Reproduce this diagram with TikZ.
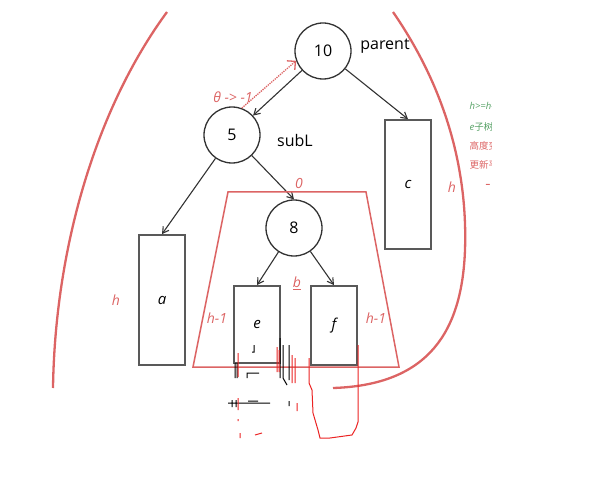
\documentclass[tikz,border=0pt]{standalone}
\usepackage{fontspec}
\setmainfont{Open Sans}
\newfontfamily\cjk{Noto Sans CJK SC}
\usetikzlibrary{arrows.meta,positioning}
\definecolor{penred}{RGB}{220,100,100}
\definecolor{inkred}{RGB}{235,35,35}
\definecolor{pengreen}{RGB}{85,160,100}

\begin{document}
\begin{tikzpicture}[
        x=1pt,
        y=-1pt,
        font=\fontsize{16}{19}\selectfont,
        knot/.style={circle, draw=black!80, line width=1.3pt, minimum size=56pt, inner sep=0pt},
        subtree/.style={rectangle, draw=black!65, line width=1.8pt, minimum width=46pt, font=\fontsize{15}{18}\selectfont\itshape},
        link/.style={-{Straight Barb[length=6pt,width=7pt]}, black!80, line width=1.1pt},
        hint/.style={penred, font=\fontsize{14}{16}\selectfont\itshape},
        note/.style={anchor=west, font=\fontsize{9.5}{11}\selectfont},
        pen/.style={penred, line width=2.3pt},
        scribble/.style={line width=1pt}
    ]
        \useasboundingbox (0,0) rectangle (602,489);

        % tree
        \node[knot] (n10) at (323,51) {10};
        \node (lparent) at (385,46) {parent};
        \node[knot] (n5) at (232,135) {5};
        \node (lsubl) at (295,141) {subL};
        \node[knot] (n8) at (294,228) {8};
        \node[subtree, minimum height=129pt] (tc) at (408,184.5) {c};
        \node[subtree, minimum height=130pt] (ta) at (162,300) {a};
        \node[subtree, minimum height=77pt] (te) at (257,324.5) {e};
        \node[subtree, minimum height=79pt] (tf) at (334,325.5) {f};

        \draw[link] (n10) -- (n5);
        \draw[link] (n10) -- (tc.north);
        \draw[link] (n5) -- (ta.north);
        \draw[link] (n5) -- (n8.north);
        \draw[link] (n8) -- (te.north);
        \draw[link] (n8) -- (tf.north);
        \draw[penred, densely dotted, line width=1.3pt, -{Straight Barb[length=6pt]}] (n5.70) -- (n10.200);

        % subtree b
        \draw[penred, line width=1.5pt] (228,192) -- (366,192) -- (399,367) -- (193,367) -- cycle;

        \node[hint] (lzero) at (299,183) {0};
        \node[hint] (lrot) at (233,97) {θ -> -1};
        \node[hint] (lb) at (297,283) {\underline{b}};
        \node[hint] (lhe) at (217,318) {h-1};
        \node[hint] (lhf) at (376,318) {h-1};
        \node[hint] (lha) at (116,300) {h};
        \node[hint] (lhc) at (452,187) {h};

        % outline strokes
        \draw[pen] (167,12) .. controls (95,110) and (55,250) .. (53,388);
        \draw[pen] (393,12) .. controls (440,80) and (468,160) .. (465,250)
            .. controls (462,330) and (430,385) .. (333,388);
        \draw[inkred, scribble] (309,358) -- (309,383) -- (312,390) -- (313,413) -- (318,430)
            -- (320,438) -- (330,438) -- (352,435) -- (356,428) -- (358,422) -- (358,345);

        \draw[black, scribble] (235,363) -- (235,378) (237,363) -- (237,378)
            (247,378) -- (247,373) -- (259,373) (254,345) -- (254,352) -- (252,352)
            (280,338) -- (280,378) (283,345) -- (283,378) -- (287,385) (289,345) -- (289,380)
            (228,403) -- (270,403) (232,400) -- (232,407) (236,400) -- (236,407)
            (248,401) -- (258,401) (289,401) -- (289,406);
        \draw[inkred, scribble] (238,353) -- (238,377) (277,347) -- (277,372) (279,350) -- (279,372)
            (292,355) -- (292,383) (295,358) -- (295,383) (238,398) -- (238,410)
            (297,403) -- (297,411) (240,433) -- (240,438) (255,435) -- (262,433) (238,419) -- (238,421);

        % side note
        \begin{scope}
            \clip (460,95) rectangle (491,200);
            \node[note, pengreen] (nh) at (466,106) {\itshape h>=h-1};
            \node[note, pengreen] (ne) at (466,127) {\itshape e\cjk 子树高度};
            \node[note, penred] (ng) at (466,146) {\cjk 高度变化};
            \node[note, penred] (nu) at (466,165) {\cjk 更新平衡};
            \node[note, penred] (nd) at (482,186) {\bfseries --};
        \end{scope}
    \end{tikzpicture}
\end{document}
